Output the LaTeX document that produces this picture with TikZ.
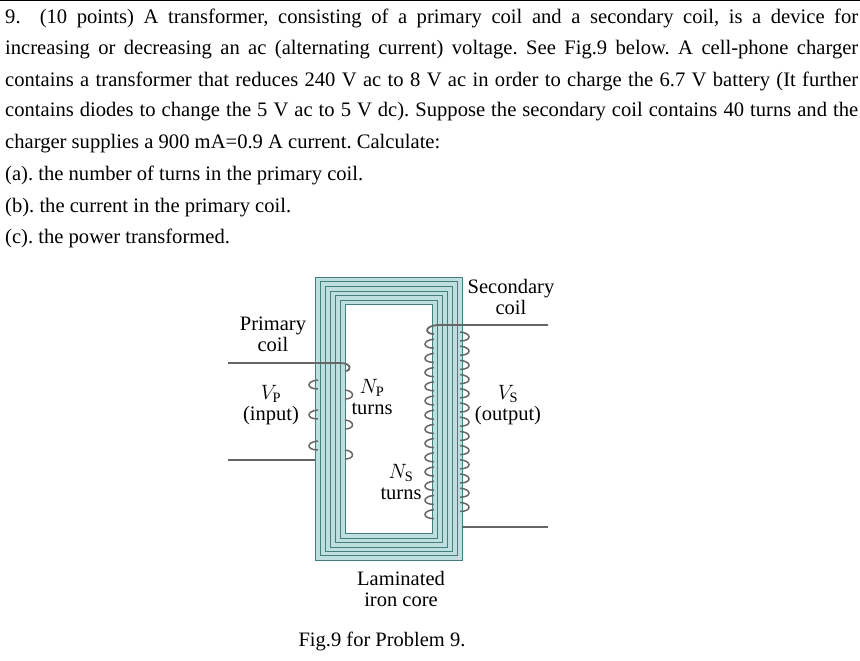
\documentclass[tikz,border=0pt]{standalone}
\usepackage{fontspec}
\setmainfont{Liberation Serif}
\frenchspacing
\begin{document}
\begin{tikzpicture}[x=1pt,y=-1pt,
  txt/.style={anchor=base west,inner sep=0pt,font=\fontsize{20.6}{22}\selectfont},
  lbl/.style={inner sep=0pt,align=center,font=\fontsize{20.5}{21}\selectfont},
  wire/.style={draw=gray!80!black,line width=1.8pt},
  loop/.style={draw=gray!80!black,line width=1.5pt}]
\useasboundingbox (0,0) rectangle (860,661);
\draw[line width=1pt] (0,1) -- (860,1);
\node[txt] (l1) at (5,24) {\makebox[853pt][s]{9.\ \ (10 points) A transformer, consisting of a primary coil and a secondary coil, is a device for}};
\node[txt] (l2) at (5,55) {\makebox[853pt][s]{increasing or decreasing an ac (alternating current) voltage. See Fig.9 below. A cell-phone charger}};
\node[txt] (l3) at (5,86) {\makebox[853pt][s]{contains a transformer that reduces 240 V ac to 8 V ac in order to charge the 6.7 V battery (It further}};
\node[txt] (l4) at (5,117) {\makebox[853pt][s]{contains diodes to change the 5 V ac to 5 V dc). Suppose the secondary coil contains 40 turns and the}};
\node[txt] (l5) at (5,148) {charger supplies a 900 mA=0.9 A current. Calculate:};
\node[txt] (l6) at (5,180) {(a). the number of turns in the primary coil.};
\node[txt] (l7) at (5,212) {(b). the current in the primary coil.};
\node[txt] (l8) at (5,243) {(c). the power transformed.};
% core
\fill[teal!25] (315,277) rectangle (462,560);
\fill[white] (345,305) rectangle (432,534);
\foreach \d in {0,5,...,30}{
  \draw[teal!50!gray,line width=0.9pt] (315+\d,277+\d*0.93) rectangle (462-\d,560-\d*0.87);}
% primary coil
\draw[wire] (228,363) -- (340,363) .. controls (352,363) and (352,371) .. (345,371);
\draw[wire] (228,460) -- (315,460);
\foreach \y in {395,425,455}{\draw[loop] (345,\y-5) .. controls (355,\y-4) and (355,\y+4) .. (345,\y+4);}
\foreach \y in {385,415,446}{\draw[loop] (318,\y-5) .. controls (306,\y-4) and (306,\y+4) .. (318,\y+4);}
% secondary coil
\draw[wire] (548,325) -- (440,325) .. controls (424,325) and (424,334) .. (434,334);
\draw[wire] (462,527) -- (548,527);
\foreach \i in {1,...,13}{\pgfmathsetmacro\y{330+\i*14.2}
  \draw[loop] (434,\y-5) .. controls (422,\y-4) and (422,\y+4) .. (434,\y+4);}
\foreach \i in {0,...,12}{\pgfmathsetmacro\y{337+\i*14.2}
  \draw[loop] (460,\y-5) .. controls (472,\y-4) and (472,\y+4) .. (460,\y+4);}
% labels
\node[lbl] (pc) at (273,334) {Primary\\coil};
\node[lbl] (vp) at (271,405) {$V_{\mathrm{P}}$\\(input)};
\node[lbl] (np) at (372,397) {$N_{\mathrm{P}}$\\turns};
\node[lbl] (sc) at (511,297) {Secondary\\coil};
\node[lbl] (vs) at (508,405) {$V_{\mathrm{S}}$\\(output)};
\node[lbl] (ns) at (401,482) {$N_{\mathrm{S}}$\\turns};
\node[lbl] (lc) at (401,589) {Laminated\\iron core};
\node[lbl] (cap) at (382,641) {Fig.9 for Problem 9.};
\end{tikzpicture}
\end{document}
